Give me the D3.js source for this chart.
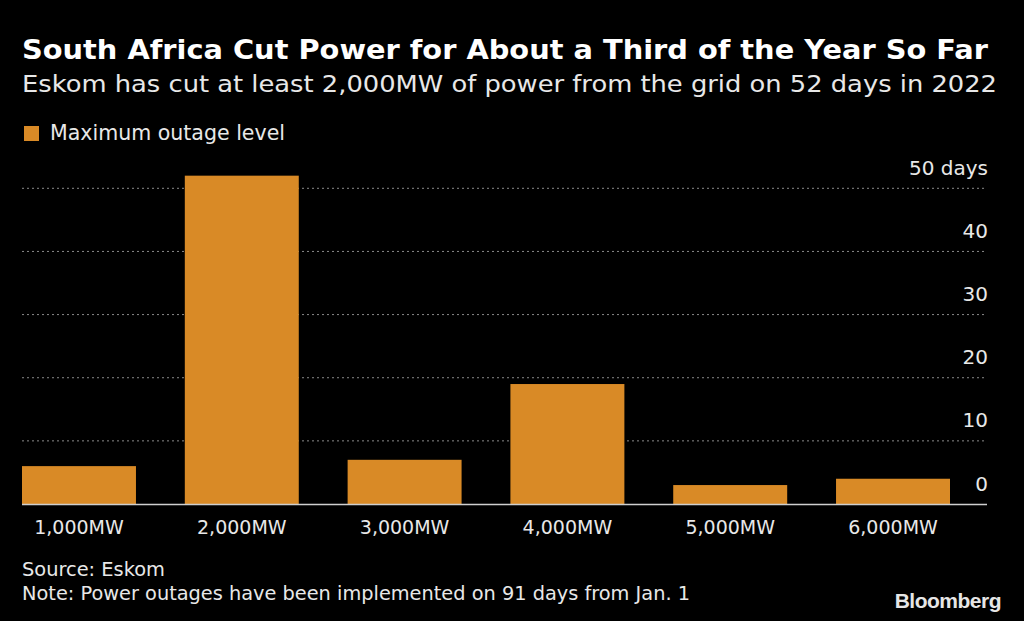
<!DOCTYPE html>
<html><head><meta charset="utf-8">
<script src="https://cdn.jsdelivr.net/npm/d3@7"></script>
<style>
html,body{margin:0;padding:0;background:#000;}
svg{display:block;}
</style></head>
<body>
<svg id="c" width="1024" height="621"></svg>
<script>
const categories = ["1,000MW","2,000MW","3,000MW","4,000MW","5,000MW","6,000MW"];
const days = [6, 52, 7, 19, 3, 4];
const yTicks = [0, 10, 20, 30, 40, 50];
const yTickLabels = ["0","10","20","30","40","50 days"];
const seriesName = "Maximum outage level";
const title = "South Africa Cut Power for About a Third of the Year So Far";
const subtitle = "Eskom has cut at least 2,000MW of power from the grid on 52 days in 2022";
const source = "Source: Eskom";
const note = "Note: Power outages have been implemented on 91 days from Jan. 1";

const svg = d3.select("#c");
const W = 1024, H = 621;
svg.append("rect").attr("width", W).attr("height", H).attr("fill", "#000");

const orange = "#d98a26";
const txt = "#e8e8e8";
const sans = "'DejaVu Sans',Verdana,sans-serif";

const x = d3.scaleBand().domain(categories).range([22, 950]).paddingInner(0.3).paddingOuter(0);
const y = d3.scaleLinear().domain([0, 50]).range([504, 188.3]);

svg.append("text").attr("x", 22).attr("y", 59).attr("fill", "#fff")
  .attr("font-family", sans).attr("font-weight", "bold").attr("font-size", 26.5)
  .attr("textLength", 966).attr("lengthAdjust", "spacingAndGlyphs").text(title);
svg.append("text").attr("x", 22).attr("y", 92).attr("fill", txt)
  .attr("font-family", sans).attr("font-size", 23.5)
  .attr("textLength", 975).attr("lengthAdjust", "spacingAndGlyphs").text(subtitle);

svg.append("rect").attr("x", 24).attr("y", 126).attr("width", 15).attr("height", 15).attr("fill", orange);
svg.append("text").attr("x", 50).attr("y", 140).attr("fill", txt)
  .attr("font-family", sans).attr("font-size", 20.5)
  .attr("textLength", 235).attr("lengthAdjust", "spacingAndGlyphs").text(seriesName);

// gridlines
const grid = svg.append("g");
grid.selectAll("line").data(yTicks.filter(d => d > 0)).join("line")
  .attr("x1", 22).attr("x2", 987)
  .attr("y1", d => y(d)).attr("y2", d => y(d))
  .attr("stroke", "#8a8a8a").attr("stroke-width", 1).attr("stroke-dasharray", "2,3");

// bars
svg.append("g").selectAll("rect").data(days).join("rect")
  .attr("x", (d, i) => x(categories[i]))
  .attr("width", x.bandwidth())
  .attr("y", d => y(d))
  .attr("height", d => y(0) - y(d))
  .attr("fill", orange);

// baseline
svg.append("line").attr("x1", 22).attr("x2", 987).attr("y1", y(0) + 0.5).attr("y2", y(0) + 0.5)
  .attr("stroke", "#cfcfcf").attr("stroke-width", 1.5);

// y tick labels
const yAxis = d3.axisRight(y).tickValues(yTicks).tickSize(0).tickFormat((d, i) => yTickLabels[i]);
const ya = svg.append("g").attr("transform", "translate(988,0)").call(yAxis);
ya.select(".domain").remove();
ya.selectAll("text").attr("x", 0).attr("dy", -14).attr("text-anchor", "end")
  .attr("fill", txt).attr("font-family", sans).attr("font-size", 20);

// x axis labels
const xAxis = d3.axisBottom(x).tickSize(0);
const xa = svg.append("g").attr("transform", "translate(0,504)").call(xAxis);
xa.select(".domain").remove();
xa.selectAll("text").attr("y", 30).attr("dy", 0)
  .attr("fill", txt).attr("font-family", sans).attr("font-size", 19);

svg.append("text").attr("x", 22).attr("y", 576).attr("fill", txt)
  .attr("font-family", sans).attr("font-size", 19.4).text(source);
svg.append("text").attr("x", 22).attr("y", 600).attr("fill", txt)
  .attr("font-family", sans).attr("font-size", 19.4)
  .attr("textLength", 668).attr("lengthAdjust", "spacingAndGlyphs").text(note);

svg.append("text").attr("x", 1001).attr("y", 608).attr("text-anchor", "end").attr("fill", "#e6e6e6")
  .attr("font-family", "'Liberation Sans',Arial,sans-serif").attr("font-weight", "bold")
  .attr("font-size", 21).attr("letter-spacing", -0.5).text("Bloomberg");
</script>
</body></html>
